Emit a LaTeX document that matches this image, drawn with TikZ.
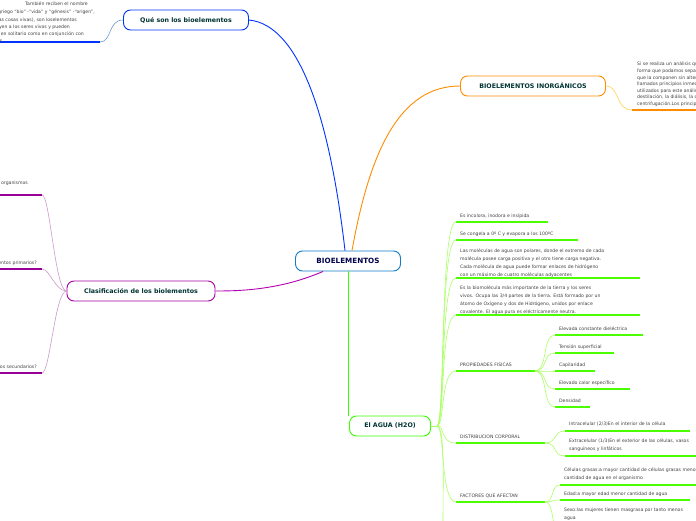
\documentclass[tikz,border=0pt]{standalone}
\usepackage{fontspec}
\setmainfont{DejaVu Sans}
\begin{document}
\begin{tikzpicture}[x=1pt,y=-1pt,
 t/.style={font=\fontsize{4.6}{7.8}\selectfont,text=black!75,inner sep=0pt,align=left},
 mainbox/.style={draw,rounded corners=7pt,line width=0.9pt,font=\fontsize{6.3}{8}\selectfont\bfseries,text=teal!40!black,minimum height=20pt,inner xsep=8pt,fill=white},
 bl/.style={draw=blue!80!cyan,line width=0.9pt},
 orl/.style={draw=orange!90!yellow,line width=0.9pt},
 pl/.style={draw=violet!60!magenta,line width=0.9pt},
 gl/.style={draw=green!70!lime,line width=0.9pt},
 gthin/.style={draw=green!40!lime!60!white,line width=0.6pt},
 pthin/.style={draw=violet!40!white,line width=0.6pt},
 gu/.style={draw=green!60!lime,line width=1.2pt}]
\useasboundingbox (0,0) rectangle (696,520);
\clip (0,0) rectangle (696,520);
\node[mainbox,draw=cyan!60!blue,minimum width=105pt,font=\fontsize{7.2}{8}\selectfont\bfseries,text=blue!30!black] (root) at (348,261) {BIOELEMENTOS};
\node[mainbox,draw=blue!80!cyan,minimum width=125pt] (q) at (186,20) {Qué son los bioelementos};
\node[mainbox,draw=orange!90!yellow,minimum width=145pt] (inorg) at (533,86) {BIOELEMENTOS INORGÁNICOS};
\node[mainbox,draw=violet!70!magenta,minimum width=148pt] (clas) at (141,291) {Clasificación de los biolementos};
\node[mainbox,draw=green!70!lime,minimum width=81pt] (agua) at (390,426) {El AGUA (H2O)};
\draw[bl] (root.north) ++(-3,0) .. controls (330,120) and (300,25) .. (q.east);
\draw[orl] (root.north) ++(4,0) .. controls (370,150) and (400,86) .. (inorg.west);
\draw[pl] (root.south) ++(-25,0) .. controls (280,290) and (240,291) .. (clas.east);
\draw[gl] (root.south) -- (agua.north -| root.south);
% Qué son
\coordinate (qe) at (100,42);
\draw[draw=cyan!50!blue!60!white,line width=0.6pt] (q.west) .. controls (108,20) and (112,42) .. (qe);
\draw[draw=blue!80!cyan,line width=1.2pt] (qe) -- (0,42);
\node[t,anchor=east] (q1) at (88,4) {También reciben el nombre};
\node[t,anchor=east] (q2) at (95,12) {de bioelementos (del griego “bio” -“vida” y “génesis” -“origen”,};
\node[t,anchor=east] (q3) at (77,20) {es decir, origen de las cosas vivas), son loselementos};
\node[t,anchor=east] (q4) at (70,27) {químicos que constituyen a los seres vivos y pueden};
\node[t,anchor=east] (q5) at (84,34) {encontrarse tanto en solitario como en conjunción con};
\node[t,anchor=east] (q6) at (4,41) {otros elementos.};
% Inorganicos
\coordinate (ie) at (632,110);
\draw[draw=orange!50!yellow!70!white,line width=0.6pt] (inorg.east) .. controls (620,86) and (615,110) .. (ie);
\draw[draw=orange!90!yellow,line width=1.2pt] (ie) -- (696,110);
\node[t,font=\fontsize{4.6}{6.6}\selectfont,anchor=north west] (it) at (637,62) {Si se realiza un análisis químico de la materia viva de\\forma que podamos separar los distintos compuestos\\que la componen sin alterarlos, obtenemos los\\llamados principios inmediatos. Los métodos\\utilizados para este análisis son: la evaporación, la\\destilación, la diálisis, la cromatografía y la\\centrifugación.Los principios inmediatos};
% Clasificación
\foreach \y/\n in {195/a,269/b,373/c}{\coordinate (p\n) at (42,\y);
 \draw[pthin] (clas.west) .. controls (55,291) and (50,\y) .. (p\n);
 \draw[draw=violet!80!magenta,line width=1.2pt] (p\n) -- (0,\y);}
\node[t,anchor=east] (pa) at (28,183) {Elementos presentes en todos los organismos};
\node[t,anchor=east] (pb) at (37,263) {¿Cuáles son los bioelementos primarios?};
\node[t,anchor=east] (pc) at (37,367) {¿Cuáles son los bioelementos secundarios?};
% Agua branches
\coordinate (ao) at (437,426);
\draw[gthin] (agua.east) -- (ao);
\foreach \y/\e in {222/548,240/578,278/640,315/640,371/535,443/545,502/545}{
 \draw[gthin] (ao) .. controls (445,426) and (440,\y) .. (456,\y);
 \draw[gu] (456,\y) -- (\e,\y);}
\draw[gthin] (ao) .. controls (445,426) and (443,480) .. (443,525);
\node[t,anchor=west] (w1) at (460,216) {Es incolora, inodora e insípida};
\node[t,anchor=west] (w2) at (460,234) {Se congela a 0º C y evapora a los 100ºC};
\node[t,anchor=north west] (w3) at (460,249) {Las moléculas de agua son polares, donde el extremo de cada\\molécula posee carga positiva y el otro tiene carga negativa.\\Cada molécula de agua puede formar enlaces de hidrógeno\\con un máximo de cuatro moléculas adyacentes};
\node[t,anchor=north west] (w4) at (460,286) {Es la biomolécula más importante de la tierra y los seres\\vivos. Ocupa las 3/4 partes de la tierra. Está formado por un\\átomo de Oxígeno y dos de Hidrógeno, unidos por enlace\\covalente. El agua pura es eléctricamente neutra.};
\node[t,anchor=west] (w5) at (460,365) {PROPIEDADES FISICAS};
\node[t,anchor=west] (w6) at (460,437) {DISTRIBUCION CORPORAL};
\node[t,anchor=west] (w7) at (460,496) {FACTORES QUE AFECTAN};
\foreach \y/\e/\s in {335/643/Elevada constante dieléctrica,353/614/Tensión superficial,371/595/Capilaridad,389/630/Elevado calor específico,407/590/Densidad}{
 \draw[gthin] (535,371) .. controls (548,371) and (542,\y) .. (555,\y);
 \draw[gu] (555,\y) -- (\e,\y);
 \node[t,anchor=west] at (559,\y-6) {\s};}
\foreach \y/\e in {431/690,456/696}{
 \draw[gthin] (545,443) .. controls (558,443) and (552,\y) .. (565,\y);
 \draw[gu] (565,\y) -- (\e,\y);}
\node[t,anchor=west] (d1) at (569,424) {Intracelular (2/3)En el interior de la célula};
\node[t,anchor=north west] (d2) at (569,439) {Extracelular (1/3)En el exterior de las células, vasos\\sanguíneos y linfáticos};
\foreach \y/\e in {485/696,500/690,530/696}{
 \draw[gthin] (545,502) .. controls (555,502) and (550,\y) .. (560,\y);
 \draw[gu] (560,\y) -- (\e,\y);}
\node[t,anchor=north west] (f1) at (564,468) {Células grasas:a mayor cantidad de células grasas menor\\cantidad de agua en el organismo};
\node[t,anchor=west] (f2) at (564,494) {Edad:a mayor edad menor cantidad de agua};
\node[t,anchor=north west] (f3) at (564,508) {Sexo:las mujeres tienen masgrasa por tanto menos\\agua};
\end{tikzpicture}
\end{document}
